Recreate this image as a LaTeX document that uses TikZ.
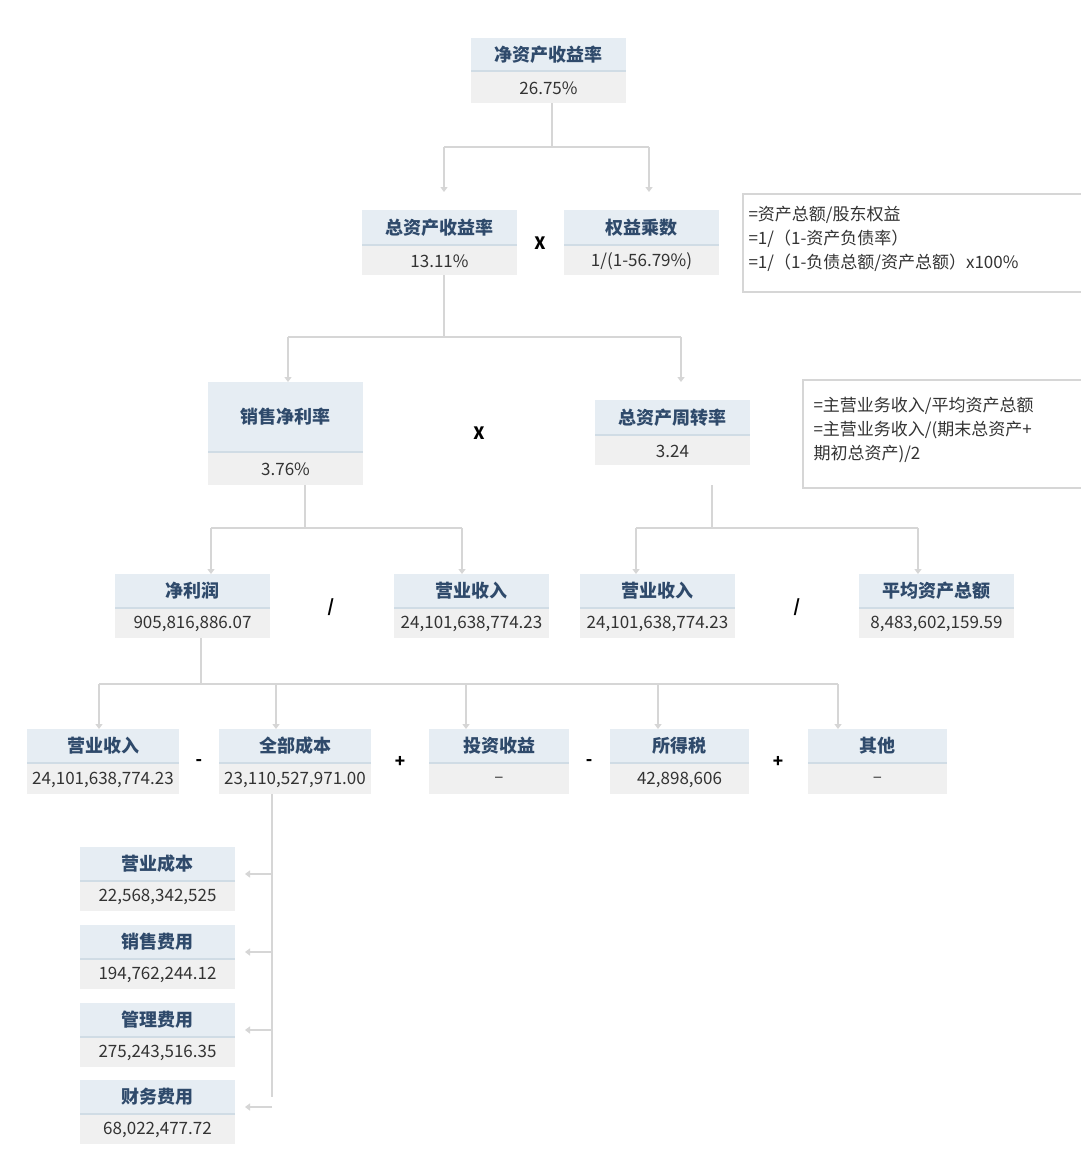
\documentclass[tikz,border=0pt]{standalone}
\usepackage{fontspec}
\setmainfont{Noto Sans CJK SC}
\usetikzlibrary{arrows.meta}
\definecolor{hd}{HTML}{E6EDF3}
\definecolor{sepc}{HTML}{D0DCE5}
\definecolor{bt}{HTML}{F0F0F0}
\definecolor{tt}{HTML}{2F4A6B}
\definecolor{vt}{HTML}{333333}
\definecolor{ln}{HTML}{D6D6D6}
\tikzset{
 con/.style={draw=ln,line width=1.6pt},
 arr/.style={con,-{Triangle[width=7pt,length=5pt]}},
 op/.style={font=\fontsize{17}{17}\selectfont\bfseries,text=black},
 ann/.style={font=\fontsize{17}{24}\selectfont,text=vt,align=left,anchor=north west},
}
% \bx{name}{x0}{x1}{ytop}{ysep}{ybot}{title}{value}
\newcommand\bx[8]{%
 \fill[hd] (#2,#4) rectangle (#3,#5);
 \fill[bt] (#2,#5) rectangle (#3,#6);
 \draw[sepc,line width=2pt] (#2,#5) -- (#3,#5);
 \node[font=\fontsize{18}{18}\selectfont\bfseries,text=tt] (#1t) at ({(#2+#3)/2},{(#4+#5)/2}) {#7};
 \node[font=\fontsize{17}{17}\selectfont,text=vt] (#1v) at ({(#2+#3)/2},{(#5+#6)/2+1}) {#8};
 \coordinate (#1) at ({(#2+#3)/2},#4);
 \coordinate (#1b) at ({(#2+#3)/2},#6);
}
\begin{document}
\begin{tikzpicture}[x=1pt,y=-1pt]
\useasboundingbox[fill=white] (0,0) rectangle (1080,1164);
% connectors
\coordinate (j1) at (552,103); \coordinate (j1d) at (552,147);
\draw[con] (j1) -- (j1d); \draw[con] (444,147) -- (649,147);
\draw[arr] (444,147) -- (444,192); \draw[arr] (649,147) -- (649,192);
\draw[con] (444,275) -- (444,337); \draw[con] (288,337) -- (681,337);
\draw[arr] (288,337) -- (288,382); \draw[arr] (681,337) -- (681,382);
\draw[con] (305,485) -- (305,528); \draw[con] (211,528) -- (462,528);
\draw[arr] (211,528) -- (211,574); \draw[arr] (462,528) -- (462,574);
\draw[con] (712,485) -- (712,528); \draw[con] (636,528) -- (918,528);
\draw[arr] (636,528) -- (636,574); \draw[arr] (918,528) -- (918,574);
\draw[con] (201,638) -- (201,684); \draw[con] (99,684) -- (838,684);
\foreach \x in {99,276,466,658,838} \draw[arr] (\x,684) -- (\x,729);
\draw[con] (272,794) -- (272,1097);
\foreach \y in {874,952,1030,1107} \draw[arr] (272,\y) -- (245,\y);
% boxes
\bx{a}{471}{626}{38}{71}{103}{净资产收益率}{26.75\%}
\bx{b}{362}{517}{210}{245}{275}{总资产收益率}{13.11\%}
\bx{c}{564}{719}{210}{245}{275}{权益乘数}{1/(1-56.79\%)}
\bx{d}{208}{363}{382}{452}{485}{销售净利率}{3.76\%}
\bx{e}{595}{750}{400}{435}{465}{总资产周转率}{3.24}
\bx{f}{115}{270}{574}{608}{638}{净利润}{905,816,886.07}
\bx{g}{394}{549}{574}{608}{638}{营业收入}{24,101,638,774.23}
\bx{h}{580}{735}{574}{608}{638}{营业收入}{24,101,638,774.23}
\bx{i}{859}{1014}{574}{608}{638}{平均资产总额}{8,483,602,159.59}
\bx{k}{27}{179}{729}{763}{794}{营业收入}{24,101,638,774.23}
\bx{l}{219}{371}{729}{763}{794}{全部成本}{23,110,527,971.00}
\bx{m}{429}{569}{729}{763}{794}{投资收益}{--}
\bx{n}{610}{749}{729}{763}{794}{所得税}{42,898,606}
\bx{o}{808}{947}{729}{763}{794}{其他}{--}
\bx{p}{80}{235}{847}{881}{911}{营业成本}{22,568,342,525}
\bx{q}{80}{235}{925}{959}{989}{销售费用}{194,762,244.12}
\bx{r}{80}{235}{1003}{1037}{1067}{管理费用}{275,243,516.35}
\bx{s}{80}{235}{1080}{1114}{1144}{财务费用}{68,022,477.72}
% operators
\node[op] (o1) at (540,243) {X};
\node[op] (o2) at (479,433) {X};
\node[op] (o3) at (331,607) {/};
\node[op] (o4) at (797,607) {/};
\node[op] (o5) at (199,762) {-};
\node[op] (o6) at (400,762) {+};
\node[op] (o7) at (589,762) {-};
\node[op] (o8) at (778,762) {+};
% annotations
\draw[ln,line width=1.2pt] (1081,194) -- (743,194) -- (743,292) -- (1081,292);
\node[ann] (n1) at (745,203) {=资产总额/股东权益\\=1/（1-资产负债率）\\=1/（1-负债总额/资产总额）x100\%};
\draw[ln,line width=1.2pt] (1081,380) -- (803,380) -- (803,488) -- (1081,488);
\node[ann] (n2) at (810,394) {=主营业务收入/平均资产总额\\=主营业务收入/(期末总资产+\\期初总资产)/2};
\end{tikzpicture}
\end{document}
